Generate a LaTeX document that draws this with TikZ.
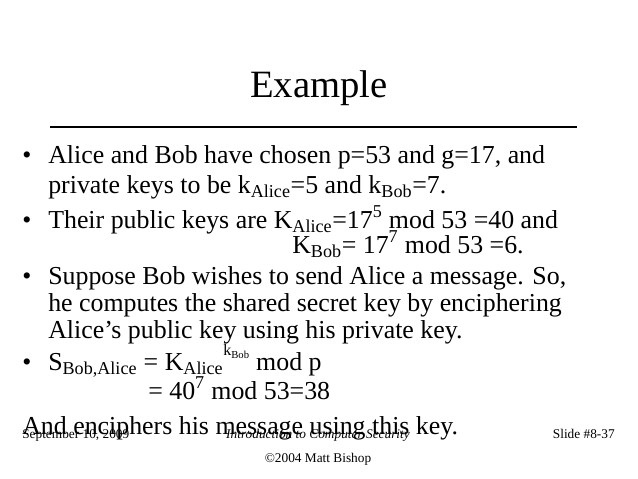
\documentclass[tikz,border=0pt]{standalone}
\usepackage{fontspec}
\setmainfont{Liberation Serif}
\begin{document}
\begin{tikzpicture}[x=0.75pt,y=-0.75pt,
  body/.style={anchor=base west,inner sep=0pt,font=\fontsize{19.4}{21}\selectfont},
  foot/.style={inner sep=0pt,font=\fontsize{10}{12}\selectfont}]
\useasboundingbox (0,0) rectangle (638,478);
\node[inner sep=0pt,anchor=base,font=\fontsize{29}{32}\selectfont] (title) at (319,97) {Example};
\draw[line width=2.2pt] (50,127) -- (577,127);
\node[body] (b1) at (22,163) {•};
\node[body] (l1) at (48,163) {Alice and Bob have chosen p=53 and g=17, and};
\node[body] (l2) at (48,193) {private keys to be k\textsubscript{Alice}=5 and k\textsubscript{Bob}=7.};
\node[body] (b2) at (22,228) {•};
\node[body] (l3) at (48,228) {Their public keys are K\textsubscript{Alice}=17\textsuperscript{5} mod 53 =40 and};
\node[body] (l4) at (292,253) {K\textsubscript{Bob}= 17\textsuperscript{7} mod 53 =6.};
\node[body] (b3) at (22,284) {•};
\node[body] (l5) at (48,284) {Suppose Bob wishes to send Alice a message. So,};
\node[body] (l6) at (48,311) {he computes the shared secret key by enciphering};
\node[body] (l7) at (48,338) {Alice’s public key using his private key.};
\node[body] (b4) at (22,370) {•};
\node[body] (l8) at (48,370) {S\textsubscript{Bob,Alice} = K\textsubscript{Alice}\raisebox{0.55em}{\fontsize{12}{12}\selectfont k\textsubscript{Bob}} mod p};
\node[body] (l9) at (148,399) {= 40\textsuperscript{7} mod 53=38};
\node[body] (l10) at (22,434) {And enciphers his message using this key.};
\node[foot,anchor=base west] (f1) at (22,438) {September 10, 2009};
\node[foot,anchor=base,font=\fontsize{10}{12}\selectfont\itshape] (f2) at (318,438) {Introduction to Computer Security};
\node[foot,anchor=base east] (f3) at (615,438) {Slide \#8-37};
\node[foot,anchor=base] (f4) at (318,462) {©2004 Matt Bishop};
\end{tikzpicture}
\end{document}
